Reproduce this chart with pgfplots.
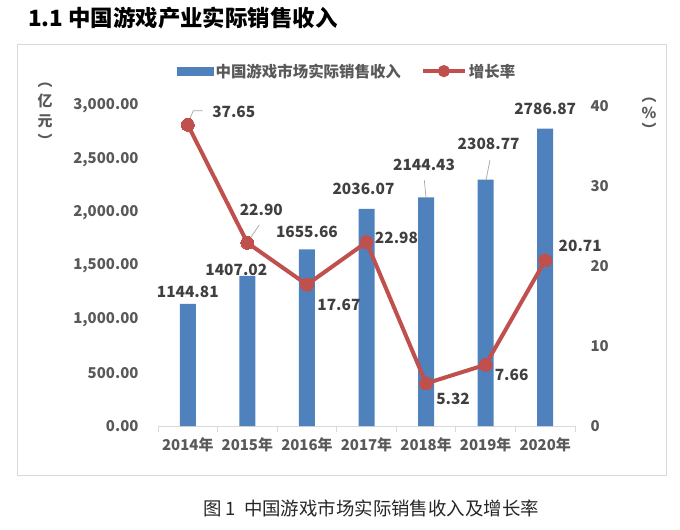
\documentclass[border=0pt]{standalone}
\usepackage{fontspec}
\setmainfont{Noto Sans CJK SC}
\usepackage{pgfplots}
\pgfplotsset{compat=1.18}
\usepackage{pgfplotstable}
\definecolor{barblue}{HTML}{4F81BD}
\definecolor{linered}{HTML}{C0504D}
\definecolor{txt}{HTML}{595959}
\definecolor{lbl}{HTML}{404040}
\definecolor{framec}{HTML}{D9D9D9}
\definecolor{leader}{HTML}{A6A6A6}

\pgfplotstableread{
x y dx dy lab
0 1144.81 0 12 1144.81
1 1407.02 -11 6 1407.02
2 1655.66 0 18 1655.66
3 2036.07 -3 20 2036.07
4 2144.43 -2 32 2144.43
5 2308.77 3 36 2308.77
6 2786.87 0 20 2786.87
}\bars

\pgfplotstableread{
x y dx dy lab
0 37.65 46 13 37.65
1 22.90 14 33 22.90
2 17.67 32 -20 17.67
3 22.98 30 4 22.98
4 5.32 27 -15 5.32
5 7.66 26 -10 7.66
6 20.71 35 14 20.71
}\growth

\begin{document}
\begin{tikzpicture}
\path (0,0) rectangle (680bp,-530bp);
\draw[framec, line width=0.8bp] (17bp,-44bp) rectangle (666bp,-475bp);
\node[anchor=west, font=\bfseries\fontsize{22.5}{26}\selectfont, inner sep=0] at (28bp,-18bp) {1.1 中国游戏产业实际销售收入};
\node[font=\fontsize{18.5}{22}\selectfont, text=black!85] at (371bp,-508bp) {图 1\ \ 中国游戏市场实际销售收入及增长率};
\node[align=center, font=\bfseries\fontsize{15}{20}\selectfont, text=txt, inner sep=0] at (45bp,-115bp) {︵\\亿\\元\\︶};
\node[align=center, font=\bfseries\fontsize{15}{17}\selectfont, text=txt, inner sep=0] at (649bp,-117bp) {︵\\\%\\︶};

\begin{axis}[
  scale only axis, width=417bp, height=320bp,
  at={(158bp,-426bp)}, anchor=south west,
  xmin=-0.5, xmax=6.5, ymin=0, ymax=3000,
  axis x line*=bottom, axis y line*=left,
  x axis line style={draw=framec, line width=0.8bp},
  y axis line style={draw=none},
  xtick={0,...,6},
  xticklabels={2014年,2015年,2016年,2017年,2018年,2019年,2020年},
  minor xtick={-0.5,0.5,...,6.5},
  major tick length=0pt, minor tick length=6bp, tick align=outside,
  minor tick style={draw=framec, line width=0.8bp},
  ytick={0,500,...,3000},
  ytick style={draw=none},
  /pgf/number format/assume math mode=true,
  ticklabel style={font=\bfseries\fontsize{15}{18}\selectfont, text=txt},
  yticklabel style={/pgf/number format/fixed, /pgf/number format/fixed zerofill, /pgf/number format/precision=2, /pgf/number format/1000 sep={,}, xshift=-16bp},
  xticklabel style={yshift=-8bp},
  clip=false,
]
\addplot[ybar, bar width=16bp, fill=barblue, draw=none,
  point meta=explicit symbolic,
  visualization depends on={\thisrow{dx} \as \mydx},
  visualization depends on={\thisrow{dy} \as \mydy},
  nodes near coords,
  every node near coord/.append style={font=\bfseries\fontsize{15.5}{18}\selectfont, text=lbl, anchor=center, xshift=\mydx bp, yshift=\mydy bp}]
  table[x=x, y=y, meta=lab]{\bars};
\draw[leader, line width=0.7bp] (axis cs:3.999,2144) -- (axis cs:3.970,2306);
\draw[leader, line width=0.7bp] (axis cs:5.006,2306) -- (axis cs:5.073,2494);
\end{axis}

\begin{axis}[
  scale only axis, width=417bp, height=320bp,
  at={(158bp,-426bp)}, anchor=south west,
  xmin=-0.5, xmax=6.5, ymin=0, ymax=40,
  axis x line=none, axis y line*=right,
  y axis line style={draw=none},
  ytick={0,10,...,40},
  ytick style={draw=none},
  /pgf/number format/assume math mode=true,
  yticklabel style={font=\bfseries\fontsize{15}{18}\selectfont, text=txt, xshift=12bp},
  clip=false,
  legend style={at={(0.0456,1.109)}, anchor=west, draw=none, fill=none, inner sep=0pt,
    font=\bfseries\fontsize{15.5}{18}\selectfont, text=txt,
    legend columns=2, /tikz/every even column/.append style={column sep=18bp}},
]
\addlegendimage{legend image code/.code={\fill[barblue] (0bp,-4bp) rectangle (36bp,4bp);}}
\addlegendentry{中国游戏市场实际销售收入}
\addplot[linered, line width=4bp, mark=*, mark size=6.5bp,
  mark options={fill=linered, draw=linered, line width=0pt},
  legend image code/.code={\draw[linered, line width=4bp] (0bp,0bp) -- (42bp,0bp); \fill[linered] (21bp,0bp) circle (4bp);},
  point meta=explicit symbolic,
  visualization depends on={\thisrow{dx} \as \mydx},
  visualization depends on={\thisrow{dy} \as \mydy},
  nodes near coords,
  every node near coord/.append style={font=\bfseries\fontsize{15.5}{18}\selectfont, text=lbl, anchor=center, xshift=\mydx bp, yshift=\mydy bp}]
  table[x=x, y=y, meta=lab]{\growth};
\addlegendentry{增长率}
\draw[leader, line width=0.7bp] (axis cs:-0.001,37.84) -- (axis cs:0.093,39.41) -- (axis cs:0.249,39.41);
\draw[leader, line width=0.7bp] (axis cs:1.006,23.04) -- (axis cs:1.200,25.125);
\end{axis}
\end{tikzpicture}
\end{document}
